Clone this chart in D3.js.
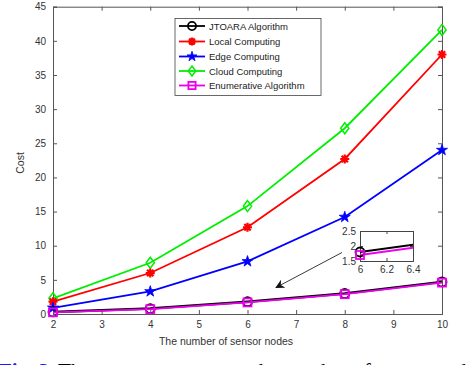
<!DOCTYPE html>
<html><head><meta charset="utf-8">
<script src="https://cdn.jsdelivr.net/npm/d3@7"></script>
<style>body{margin:0;background:#fff;overflow:hidden}svg{display:block}</style>
</head><body>
<svg id="c" width="474" height="365"></svg>
<script>
const xValues = [2, 4, 6, 8, 10];
const jtoara = [0.3, 0.8, 1.8, 3.0, 4.7];
const localComp = [1.8, 6.0, 12.7, 22.7, 38.0];
const edgeComp = [0.9, 3.3, 7.7, 14.2, 24.0];
const cloudComp = [2.3, 7.5, 15.8, 27.2, 41.6];
const enumerative = [0.25, 0.7, 1.7, 2.9, 4.6];
const xTicks = [2, 3, 4, 5, 6, 7, 8, 9, 10];
const yTicks = [0, 5, 10, 15, 20, 25, 30, 35, 40, 45];
const insetXTicks = [6, 6.2, 6.4];
const insetYTicks = [1.5, 2, 2.5];
const seriesNames = ["JTOARA Algorithm", "Local Computing", "Edge Computing", "Cloud Computing", "Enumerative Algorithm"];

const series = [
  {name: seriesNames[3], vals: cloudComp, color: "#00ee00", mk: "diamond"},
  {name: seriesNames[1], vals: localComp, color: "#ff0000", mk: "asterisk"},
  {name: seriesNames[2], vals: edgeComp, color: "#0000ff", mk: "star"},
  {name: seriesNames[0], vals: jtoara, color: "#000000", mk: "circle"},
  {name: seriesNames[4], vals: enumerative, color: "#ee00ee", mk: "square"}
];
const legendOrder = [3, 1, 2, 0, 4];

const svg = d3.select("#c");
const font = "Helvetica, Arial, 'Liberation Sans', sans-serif";
const axisCol = "#555";
const x = d3.scaleLinear().domain([2, 10]).range([53, 442]);
const y = d3.scaleLinear().domain([0, 45]).range([314, 6.7]);

function marker(g, type, cx, cy, color, s) {
  s = s || 1;
  if (type === "circle") {
    g.append("circle").attr("cx", cx).attr("cy", cy).attr("r", 4.5*s)
      .attr("fill", "none").attr("stroke", color).attr("stroke-width", 1.8);
  } else if (type === "square") {
    g.append("rect").attr("x", cx-4*s).attr("y", cy-4*s).attr("width", 8*s).attr("height", 8*s)
      .attr("fill", "none").attr("stroke", color).attr("stroke-width", 1.8);
  } else if (type === "diamond") {
    const r = 5.5*s;
    g.append("path").attr("d", `M${cx},${cy-r}L${cx+r*0.75},${cy}L${cx},${cy+r}L${cx-r*0.75},${cy}Z`)
      .attr("fill", "none").attr("stroke", color).attr("stroke-width", 1.5);
  } else if (type === "asterisk") {
    const r = 4.5*s;
    let d = "";
    for (let i = 0; i < 4; i++) {
      const a = i*Math.PI/4;
      d += `M${cx-r*Math.cos(a)},${cy-r*Math.sin(a)}L${cx+r*Math.cos(a)},${cy+r*Math.sin(a)}`;
    }
    g.append("path").attr("d", d).attr("stroke", color).attr("stroke-width", 2.2);
  } else if (type === "star") {
    g.append("path").attr("d", d3.symbol(d3.symbolStar, 38*s*s)())
      .attr("transform", `translate(${cx},${cy})`).attr("fill", color).attr("stroke", color).attr("stroke-width", 0.8);
  }
}

// axes box
const gx = svg.append("g").attr("transform", "translate(0,314)")
  .call(d3.axisBottom(x).tickValues(xTicks).tickSize(-4).tickPadding(7).tickFormat(d3.format("d")));
const gxt = svg.append("g").attr("transform", "translate(0,6.7)")
  .call(d3.axisTop(x).tickValues(xTicks).tickSize(-4).tickFormat(""));
const gy = svg.append("g").attr("transform", "translate(53,0)")
  .call(d3.axisLeft(y).tickValues(yTicks).tickSize(-4).tickPadding(7));
const gyr = svg.append("g").attr("transform", "translate(442,0)")
  .call(d3.axisRight(y).tickValues(yTicks).tickSize(-4).tickFormat(""));
[gx, gxt, gy, gyr].forEach(g => {
  g.select(".domain").attr("stroke", axisCol).attr("stroke-width", 1);
  g.selectAll(".tick line").attr("stroke", axisCol);
  g.selectAll("text").attr("font-family", font).attr("font-size", 10).attr("fill", "#333");
});

// lines
const line = d3.line().x((d, i) => x(xValues[i])).y(d => y(d));
series.forEach(s => {
  svg.append("path").attr("d", line(s.vals)).attr("fill", "none")
    .attr("stroke", s.color).attr("stroke-width", s.mk === "circle" ? 2.4 : 1.8);
  const g = svg.append("g");
  s.vals.forEach((v, i) => marker(g, s.mk, x(xValues[i]), y(v), s.color));
});

// axis labels
svg.append("text").attr("x", 226).attr("y", 345).attr("text-anchor", "middle")
  .attr("font-family", font).attr("font-size", 10.5).attr("fill", "#333").text("The number of sensor nodes");
svg.append("text").attr("transform", "translate(24,163) rotate(-90)").attr("text-anchor", "middle")
  .attr("font-family", font).attr("font-size", 10.5).attr("fill", "#333").text("Cost");

// legend
const lg = svg.append("g");
lg.append("rect").attr("x", 175).attr("y", 18.5).attr("width", 146).attr("height", 77)
  .attr("fill", "#fff").attr("stroke", "#444").attr("stroke-width", 0.8);
const legY = [26, 41.5, 56.5, 71, 85.5];
legendOrder.forEach((si, k) => {
  const s = series[si];
  const ly = legY[k];
  lg.append("line").attr("x1", 179).attr("x2", 205).attr("y1", ly).attr("y2", ly)
    .attr("stroke", s.color).attr("stroke-width", 1.8);
  marker(lg, s.mk, 192, ly, s.color, 0.9);
  lg.append("text").attr("x", 209).attr("y", ly + 3.5).attr("font-family", font)
    .attr("font-size", 9.5).attr("fill", "#222").text(s.name);
});

// inset
const ix = d3.scaleLinear().domain([6, 6.4]).range([360, 413]);
const iy = d3.scaleLinear().domain([1.5, 2.5]).range([261, 231]);
const ins = svg.append("g");
ins.append("rect").attr("x", 360).attr("y", 231).attr("width", 53).attr("height", 30).attr("fill", "#fff");
const clipId = "insClip";
svg.append("defs").append("clipPath").attr("id", clipId).append("rect")
  .attr("x", 360).attr("y", 231).attr("width", 53).attr("height", 30);
const fmt = d => String(d);
const ib = ins.append("g").attr("transform", "translate(0,261)")
  .call(d3.axisBottom(ix).tickValues(insetXTicks).tickSize(-3).tickPadding(5).tickFormat(fmt));
const it = ins.append("g").attr("transform", "translate(0,231)")
  .call(d3.axisTop(ix).tickValues(insetXTicks).tickSize(-3).tickFormat(""));
const il = ins.append("g").attr("transform", "translate(360,0)")
  .call(d3.axisLeft(iy).tickValues(insetYTicks).tickSize(-3).tickPadding(4).tickFormat(fmt));
const ir = ins.append("g").attr("transform", "translate(413,0)")
  .call(d3.axisRight(iy).tickValues(insetYTicks).tickSize(-3).tickFormat(""));
[ib, it, il, ir].forEach(g => {
  g.select(".domain").attr("stroke", "#444").attr("stroke-width", 1);
  g.selectAll(".tick line").attr("stroke", "#444");
  g.selectAll("text").attr("font-family", font).attr("font-size", 10).attr("fill", "#333");
});
const iline = d3.line().x((d, i) => ix(xValues[i])).y(d => iy(d));
const ic = ins.append("g").attr("clip-path", `url(#${clipId})`);
[series[3], series[4]].forEach(s => {
  ic.append("path").attr("d", iline(s.vals)).attr("fill", "none")
    .attr("stroke", s.color).attr("stroke-width", 2);
});
[series[3], series[4]].forEach(s => {
  marker(ins, s.mk, ix(6), iy(s.vals[2]), s.color);
});

// arrow
svg.append("defs").append("marker").attr("id", "ah").attr("viewBox", "0 0 10 10")
  .attr("refX", 9).attr("refY", 5).attr("markerWidth", 9).attr("markerHeight", 9)
  .attr("orient", "auto").attr("markerUnits", "userSpaceOnUse")
  .append("path").attr("d", "M0,0L10,5L0,10L3,5Z").attr("fill", "#111");
svg.append("line").attr("x1", 342).attr("y1", 252.5).attr("x2", 276).attr("y2", 287.5)
  .attr("stroke", "#222").attr("stroke-width", 0.9).attr("marker-end", "url(#ah)");

// caption (clipped at the bottom edge, only the tops of the letters show)
const capFont = "'Liberation Serif', 'Times New Roman', serif";
const cap = svg.append("text").attr("y", 378).attr("font-family", capFont)
  .attr("font-size", 21).attr("fill", "#000");
cap.append("tspan").attr("x", -1).attr("fill", "#1a1aff").attr("font-weight", "bold").text("Fig. 3.");
cap.append("tspan").attr("x", 58).text("The cost versus");
cap.append("tspan").attr("x", 253).text("the number of sensor nodes");
</script>
</body></html>
